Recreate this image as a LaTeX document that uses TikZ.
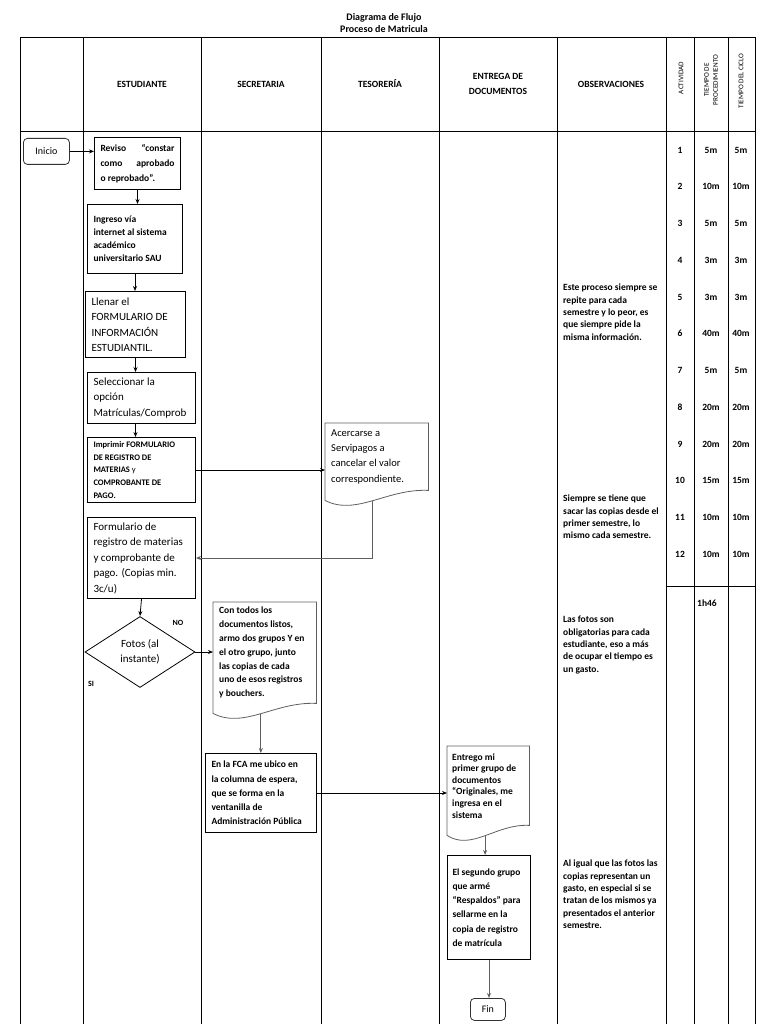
\documentclass[tikz,border=0pt]{standalone}
\usepackage{fontspec}
\setmainfont{Carlito}
\usetikzlibrary{arrows.meta, calc, shapes.geometric}

\definecolor{docgray}{RGB}{95,95,95}

% outline of a "document" node with a wavy bottom
\newcommand{\docshape}[1]{%
  \draw[docline] ($(#1.south west)+(0,10)$) -- (#1.north west) -- (#1.north east) -- (#1.south east)
    .. controls ($(#1.south west)!0.6!(#1.south east)+(0,-2)$) and ($(#1.south west)!0.3!(#1.south east)+(0,26)$) .. ($(#1.south west)+(0,10)$)
    coordinate[pos=0.5] (#1-wave) -- cycle;}

\begin{document}
\begin{tikzpicture}[
			x=1pt, y=-1pt,
			>={Stealth[length=5pt, width=4pt]},
			% Style for the table rules
			rule/.style={draw=black, line width=0.9pt},
			% Style for the column titles
			colhead/.style={align=center, font=\fontsize{9.5}{15}\selectfont\bfseries},
			vhead/.style={rotate=90, align=center, font=\fontsize{7.2}{9}\selectfont},
			% Style for the process boxes
			stepbox/.style={
				draw=black,
				line width=1pt,
				anchor=north west,
				inner xsep=6pt,
				inner ysep=2pt,
				align=flush left,
				font=\fontsize{9.5}{14}\selectfont\bfseries
			},
			plainbox/.style={stepbox, font=\fontsize{11}{15.5}\selectfont},
			docbox/.style={anchor=north west, inner xsep=6pt, inner ysep=2pt, align=flush left, font=\fontsize{9.5}{14}\selectfont\bfseries},
			docline/.style={draw=docgray, line width=0.8pt},
			terminal/.style={draw=black!80, line width=0.8pt, rounded corners=4pt, anchor=north west, font=\fontsize{10}{12}\selectfont},
			decision/.style={diamond, draw=black, line width=0.8pt, minimum width=110pt, minimum height=71pt, aspect=1.55, inner sep=1pt, align=center, font=\fontsize{11}{15}\selectfont},
			flag/.style={font=\fontsize{8}{10}\selectfont\bfseries},
			% Style for the notes and the table values
			note/.style={anchor=north west, inner sep=0pt, align=flush left, font=\fontsize{9.5}{12.3}\selectfont\bfseries},
			rownum/.style={font=\fontsize{9.5}{11}\selectfont\bfseries},
			% Style for the connectors
			flow/.style={->, line width=0.8pt},
			docflow/.style={flow, draw=docgray}
			]
			
			\useasboundingbox (0,0) rectangle (768,1024);
			
			% --- TITLE ---
			\node[align=center, font=\fontsize{10}{12}\selectfont\bfseries] (title) at (384,23) {Diagrama de Flujo\\Proceso de Matricula};
			
			% --- TABLE ---
			\draw[rule] (20,1024) -- (20,37) -- (755,37) -- (755,1024);
			\foreach \cx in {83,201,321,439,557,666,694,728}
				\draw[rule] (\cx,37) -- (\cx,1024);
			\draw[rule] (20,131) -- (755,131);
			\draw[rule] (666,586) -- (755,586);
			
			\node[colhead] (hd-est) at (142,84) {ESTUDIANTE};
			\node[colhead] (hd-sec) at (261,84) {SECRETARIA};
			\node[colhead] (hd-tes) at (380,84) {TESORERÍA};
			\node[colhead] (hd-ent) at (498,84) {ENTREGA DE\\DOCUMENTOS};
			\node[colhead] (hd-obs) at (611,84) {OBSERVACIONES};
			\node[vhead] (hd-act) at (681,78) {ACTIVIDAD};
			\node[vhead] (hd-proc) at (711,80) {TIEMPO DE\\PROCEDIMIENTO};
			\node[vhead] (hd-cyc) at (741,81) {TIEMPO DEL CICLO};
			
			% --- NODES (STUDENT) ---
			\node[terminal, minimum width=46pt, minimum height=26pt] (inicio) at (23,138) {Inicio};
			\node[stepbox, text width=74pt, minimum height=52pt, font=\fontsize{9.5}{15}\selectfont\bfseries] (reviso) at (94,137)
				{Reviso\hfill“constar\\como\hfill aprobado\\o reprobado”.};
			\node[stepbox, text width=83pt, minimum height=69pt, font=\fontsize{9.5}{13}\selectfont\bfseries] (ingreso) at (87,204)
				{Ingreso vía\\internet al sistema\\académico\\universitario SAU};
			\node[plainbox, text width=88pt, minimum height=66pt] (llenar) at (85,291)
				{Llenar el\\FORMULARIO DE\\INFORMACIÓN\\ESTUDIANTIL.};
			\node[plainbox, text width=96pt, minimum height=51pt] (seleccionar) at (87,372)
				{Seleccionar la\\opción\\Matrículas/Comprob};
			\node[stepbox, text width=96pt, minimum height=65pt, font=\fontsize{8.5}{12.7}\selectfont\bfseries] (imprimir) at (87,437)
				{Imprimir FORMULARIO\\DE REGISTRO DE\\MATERIAS {\mdseries y}\\COMPROBANTE DE\\PAGO.};
			\node[plainbox, text width=96pt, minimum height=81pt] (formulario) at (87,517)
				{Formulario de\\registro de materias\\y comprobante de\\pago. (Copias min.\\3c/u)};
			\node[decision] (fotos) at (140,652) {Fotos (al\\instante)};
			\node[flag] (no) at (178,623) {NO};
			\node[flag] (si) at (91,684) {SI};
			
			% --- NODES (SECRETARIA / TESORERIA) ---
			\node[docbox, text width=91pt, minimum height=67pt, font=\fontsize{10.5}{15.3}\selectfont] (acercarse) at (325,423)
				{Acercarse a\\Servipagos a\\cancelar el valor\\correspondiente.};
			\node[docbox, text width=91pt, minimum height=101pt, font=\fontsize{9.5}{13.8}\selectfont\bfseries] (contodos) at (213,602)
				{Con todos los\\documentos listos,\\armo dos grupos Y en\\el otro grupo, junto\\las copias de cada\\uno de esos registros\\y bouchers.};
			\node[stepbox, text width=99pt, minimum height=79pt, font=\fontsize{9.5}{14.2}\selectfont\bfseries] (enlafca) at (205,753)
				{En la FCA me ubico en\\la columna de espera,\\que se forma en la\\ventanilla de\\Administración Pública};
			
			% --- NODES (ENTREGA DE DOCUMENTOS) ---
			\node[docbox, inner xsep=5pt, text width=72pt, minimum height=79pt, font=\fontsize{9.5}{11.6}\selectfont\bfseries] (entrega) at (447,746)
				{Entrego mi\\primer grupo de\\documentos\\“Originales, me\\ingresa en el\\sistema};
			\node[stepbox, inner xsep=5pt, text width=73pt, minimum height=104pt, font=\fontsize{9.5}{14.2}\selectfont\bfseries] (segundo) at (447,855)
				{El segundo grupo\\que armé\\“Respaldos” para\\sellarme en la\\copia de registro\\de matrícula};
			\node[terminal, minimum width=35pt, minimum height=22pt] (fin) at (470,998) {Fin};
			
			% document outlines
			\docshape{acercarse}
			\docshape{contodos}
			\docshape{entrega}
			
			% --- NOTES (OBSERVACIONES) ---
			\node[note] (obs-1) at (563,284) {Este proceso siempre se\\repite para cada\\semestre y lo peor, es\\que siempre pide la\\misma información.};
			\node[note] (obs-2) at (563,495) {Siempre se tiene que\\sacar las copias desde el\\primer semestre, lo\\mismo cada semestre.};
			\node[note] (obs-3) at (563,616) {Las fotos son\\obligatorias para cada\\estudiante, eso a más\\de ocupar el tiempo es\\un gasto.};
			\node[note] (obs-4) at (563,860) {Al igual que las fotos las\\copias representan un\\gasto, en especial si se\\tratan de los mismos ya\\presentados el anterior\\semestre.};
			
			% --- TIMES ---
			\foreach \act/\tp/\tc [count=\i from 0] in {1/5m/5m, 2/10m/10m, 3/5m/5m, 4/3m/3m, 5/3m/3m, 6/40m/40m, 7/5m/5m, 8/20m/20m, 9/20m/20m, 10/15m/15m, 11/10m/10m, 12/10m/10m} {
				\node[rownum] (act-\act) at (680,{150+36.75*\i}) {\act};
				\node[rownum] (proc-\act) at (711,{150+36.75*\i}) {\tp};
				\node[rownum] (cyc-\act) at (741,{150+36.75*\i}) {\tc};
			}
			\node[rownum] (total) at (707,603) {1h46};
			
			% --- EDGES ---
			\draw[flow] (inicio.east) -- (inicio.east -| reviso.west);
			\draw[flow] (reviso.south) -- (reviso.south |- ingreso.north);
			\draw[flow] (ingreso.south) -- (ingreso.south |- llenar.north);
			\draw[flow] (llenar.south) -- (llenar.south |- seleccionar.north);
			\draw[flow] (llenar.south |- seleccionar.south) -- (llenar.south |- imprimir.north);
			\draw[flow] (imprimir.east) -- (imprimir.east -| acercarse.west);
			\draw[docflow] (acercarse-wave) |- (formulario.east);
			\draw[flow] (formulario.south) -- (fotos.north);
			\draw[flow] (fotos.east) -- (fotos.east -| contodos.west);
			\draw[docflow] (contodos-wave) -- (contodos-wave |- enlafca.north);
			\draw[flow] (enlafca.east) -- (enlafca.east -| entrega.west);
			\draw[docflow] (entrega-wave) -- (entrega-wave |- segundo.north);
			\draw[docflow] (segundo.south) -- (segundo.south |- fin.north);
			
		\end{tikzpicture}
\end{document}
